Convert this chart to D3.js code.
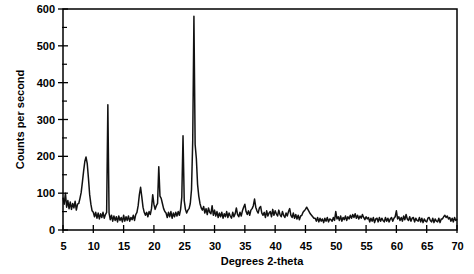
<!DOCTYPE html>
<html>
<head>
<meta charset="utf-8">
<script src="https://cdn.jsdelivr.net/npm/d3@7"></script>
<style>
  body { margin: 0; background: #fff; }
  text { font-family: "Liberation Sans", Arial, sans-serif; font-weight: bold; fill: #000; }
</style>
</head>
<body>
<div id="chart"></div>
<script>
const margin = {top: 9, right: 17, bottom: 44, left: 63}, width = 474, height = 274;

// scan settings (2-theta, degrees)
const scanStart = 5, scanStep = 0.2;
// counts per second, one value per scan step
const counts = [
  88, 70, 100, 62, 80, 58, 76, 56, 72, 60, 78, 54, 70,
  72, 86, 102, 130, 160, 186, 198, 180, 140, 96, 70, 52, 48,
  36, 48, 32, 46, 30, 44, 34, 48, 32, 42, 48,
  340,
  46, 28, 40, 24, 38, 26, 36, 22, 38, 26, 34, 22, 40, 24, 36, 26, 38, 24, 34, 28, 40, 26, 42,
  48, 66, 96, 116, 90, 62, 48, 40,
  48, 36, 50, 42, 58,
  96,
  70, 56, 66, 72,
  172,
  92, 86, 72, 58, 50,
  46, 34, 48, 36, 50, 32, 46, 36, 48, 38, 50, 40, 56,
  90, 256, 80,
  56, 46, 54, 58, 72,
  110, 240, 580, 232, 194, 124, 92, 72, 60,
  54, 64, 46, 58, 42, 60, 48, 44, 66, 40, 54,
  38, 50, 34, 46, 36, 48, 32, 44, 36, 50, 34, 46, 38, 32, 48, 36, 44, 60, 42, 36, 48, 38, 52,
  62, 70, 50, 42, 52, 40, 54, 58, 66, 84, 62, 52, 46, 60, 64, 46, 40,
  48, 34, 52, 38, 46, 50, 36, 56, 40, 52, 44, 38, 54, 42, 36, 50, 40, 34,
  46, 38, 50, 58, 40, 34,
  46, 32, 42, 30, 40, 28, 38, 40, 48,
  52, 56, 62, 56, 50, 44, 40, 36, 32,
  32, 24, 34, 22, 32, 24, 30, 20, 32, 24, 34, 22, 30, 28, 24, 34, 26,
  50, 30,
  36, 26, 38, 24, 34, 28, 38, 26, 36, 30, 40, 32,
  42, 34, 44, 32, 40, 30, 38,
  32, 42, 34, 28, 36,
  30, 34, 22, 32, 24, 34, 20, 30, 32, 22, 34, 24, 32, 26, 22, 34, 24, 32, 22, 30, 34, 24, 32,
  36, 52, 30,
  36, 26, 34, 24, 38, 28,
  42, 30,
  26, 36, 24, 32, 34, 22, 32, 26, 24, 34,
  22, 32, 20, 30, 24, 22, 32, 34, 26, 22, 32, 20, 30, 24, 22, 32, 20, 30, 30,
  36, 40, 34, 38, 30,
  34, 24, 32, 22, 34, 26, 30
];
const xTicks = [5, 10, 15, 20, 25, 30, 35, 40, 45, 50, 55, 60, 65, 70];
const yTicks = [0, 100, 200, 300, 400, 500, 600];
const yMinorTicks = [50, 150, 250, 350, 450, 550];

const data = counts.map((c, i) => ({angle: scanStart + i * scanStep, count: c}));

const svg = d3.select('#chart').append('svg')
  .attr('width', width).attr('height', height);

const xScale = d3.scaleLinear()
  .domain([5, 70])
  .range([margin.left, width - margin.right]);
const yScale = d3.scaleLinear()
  .domain([0, 600])
  .range([height - margin.bottom, margin.top]);

// trace
svg.append('path')
  .datum(data)
  .attr('fill', 'none')
  .attr('stroke', '#111')
  .attr('stroke-width', 1.5)
  .attr('stroke-linejoin', 'round')
  .attr('d', d3.line().x(d => xScale(d.angle)).y(d => yScale(d.count)));

// frame
svg.append('rect')
  .attr('x', margin.left).attr('y', margin.top)
  .attr('width', width - margin.left - margin.right)
  .attr('height', height - margin.top - margin.bottom)
  .attr('fill', 'none').attr('stroke', '#000').attr('stroke-width', 1.5);

// x axis
const xAxis = svg.append('g')
  .attr('transform', `translate(0,${height - margin.bottom})`)
  .call(d3.axisBottom(xScale).tickValues(xTicks).tickSize(0).tickPadding(12));
xAxis.select('.domain').remove();
xAxis.selectAll('text').style('font-size', '11px');
svg.append('g').selectAll('line').data(xTicks).join('line')
  .attr('x1', d => xScale(d)).attr('x2', d => xScale(d))
  .attr('y1', yScale(0) - 5).attr('y2', yScale(0) + 3)
  .attr('stroke', '#000').attr('stroke-width', 1.3);

// y axis
const yAxis = svg.append('g')
  .attr('transform', `translate(${margin.left},0)`)
  .call(d3.axisLeft(yScale).tickValues(yTicks).tickSize(0).tickPadding(8));
yAxis.select('.domain').remove();
yAxis.selectAll('text').style('font-size', '11px');
svg.append('g').selectAll('line').data(yTicks).join('line')
  .attr('x1', margin.left - 5).attr('x2', margin.left + 5)
  .attr('y1', d => yScale(d)).attr('y2', d => yScale(d))
  .attr('stroke', '#000').attr('stroke-width', 1.3);
svg.append('g').selectAll('line').data(yMinorTicks).join('line')
  .attr('x1', margin.left - 1).attr('x2', margin.left + 4)
  .attr('y1', d => yScale(d)).attr('y2', d => yScale(d))
  .attr('stroke', '#000').attr('stroke-width', 1.2);

// axis titles
svg.append('text')
  .attr('x', (xScale(5) + xScale(70)) / 2 + 2).attr('y', 265)
  .attr('text-anchor', 'middle').style('font-size', '11px')
  .text('Degrees 2-theta');
svg.append('text')
  .attr('transform', `translate(24,${(yScale(0) + yScale(600)) / 2}) rotate(-90)`)
  .attr('text-anchor', 'middle').style('font-size', '11px')
  .text('Counts per second');
</script>
</body>
</html>
